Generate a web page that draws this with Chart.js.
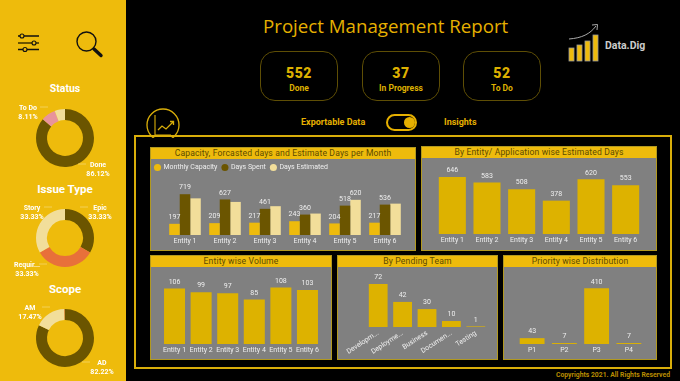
<!DOCTYPE html>
<html>
<head>
<meta charset="utf-8">
<title>Project Management Report</title>
<script src="https://cdn.jsdelivr.net/npm/chart.js@4"></script>
<style>
html, body { margin: 0; padding: 0; background: #000; }
#page { position: relative; width: 680px; height: 381px; overflow: hidden; background: #000; font-family: Roboto, sans-serif; }
#side { position: absolute; left: 0; top: 0; width: 126px; height: 381px; background: #EEBB0C; }
#frame { position: absolute; left: 134px; top: 135px; width: 534px; height: 230px; border: 2px solid #D9AE0A; }
canvas { position: absolute; }
.txt { position: absolute; white-space: nowrap; }
.sideTitle { width: 130px; left: 0; text-align: center; color: #fff; font-weight: 700; font-size: 10.5px; line-height: 12px; }
.card { position: absolute; top: 51px; width: 76px; height: 48px; border: 1.5px solid #5E4E05; border-radius: 15px; text-align: center; color: #DDB000; font-weight: 700; }
.card b { display: block; font-size: 14px; line-height: 16px; margin-top: 13px; letter-spacing: .6px; }
.card span { display: block; font-size: 8.5px; line-height: 11px; margin-top: 2px; }
.panel { position: absolute; background: #808080; border: 1px solid #B2991F; box-sizing: border-box; }
.panel div { background: #EEBB0C; color: #5C4A00; height: 11px; font-size: 8.6px; line-height: 11px; text-align: center; letter-spacing: .14px; white-space: nowrap; overflow: hidden; }
</style>
</head>
<body>
<div id="page">
  <div id="side"></div>
  <svg style="position:absolute;left:0;top:0" width="126" height="70" fill="none" stroke="#111">
    <path d="M18 36H39M18 43H39M18 49.500H39" stroke-width="1.300"/>
    <path d="M18 43H39" stroke="#6B5500" stroke-width="2"/>
    <circle cx="22" cy="36" r="2" fill="#EEBB0C" stroke-width="1.100"/>
    <circle cx="34" cy="43" r="2" fill="#EEBB0C" stroke-width="1.100"/>
    <circle cx="25" cy="49.500" r="2" fill="#EEBB0C" stroke-width="1.100"/>
    <circle cx="86.500" cy="41.500" r="9.500" stroke-width="1.400"/>
    <path d="M94 49L101 55.500" stroke-width="3.400" stroke-linecap="round"/>
  </svg>
  <div class="txt sideTitle" style="top:83px">Status</div>
  <div class="txt sideTitle" style="top:183px;font-size:11.5px">Issue Type</div>
  <div class="txt sideTitle" style="top:283px;font-size:11.5px">Scope</div>
  <canvas id="cStatus" width="130" height="90" style="left:0;top:93px"></canvas>
  <canvas id="cIssue" width="130" height="90" style="left:0;top:193px"></canvas>
  <canvas id="cScope" width="130" height="90" style="left:0;top:293px"></canvas>

  <div class="txt" style="left:263px;top:11px;font-family:'Open Sans',sans-serif;font-size:18.700px;line-height:30px;color:#E6B000">Project Management Report</div>
  <div class="card" style="left:260px"><b id="nDone"></b><span>Done</span></div>
  <div class="card" style="left:362px"><b id="nProgress"></b><span>In Progress</span></div>
  <div class="card" style="left:463px"><b id="nTodo"></b><span>To Do</span></div>

  <svg style="position:absolute;left:560px;top:20px" width="50" height="45" fill="none">
    <path d="M9 19C22 18 30 14 36 6" stroke="#aaa" stroke-width="1"/>
    <path d="M32 5L37.500 4.500L37 10" stroke="#aaa" stroke-width="1"/>
    <rect x="9" y="28" width="5" height="13" fill="#EEBB0C" stroke="#999" stroke-width=".8"/>
    <rect x="17" y="25" width="5" height="16" fill="#EEBB0C" stroke="#999" stroke-width=".8"/>
    <rect x="25" y="21" width="5" height="20" fill="#EEBB0C" stroke="#999" stroke-width=".8"/>
    <rect x="33" y="15" width="5" height="26" fill="#EEBB0C" stroke="#999" stroke-width=".8"/>
  </svg>
  <div class="txt" style="left:605px;top:39px;font-size:10.500px;line-height:13px;font-weight:700;color:#ccc">Data.Dig</div>

  <svg style="position:absolute;left:144px;top:106px" width="40" height="32" fill="none" stroke="#D9AE0A">
    <circle cx="19" cy="19" r="16" stroke-width="1.300"/>
    <path d="M11 9V29H27" stroke-width="1.100"/>
    <path d="M14 24L18 20L22 23L29 16M26 15.500H29.500V19" stroke-width="1.300"/>
  </svg>
  <div class="txt" style="left:301px;top:116px;font-size:9px;line-height:12px;font-weight:700;color:#E6B000">Exportable Data</div>
  <div style="position:absolute;left:386px;top:114px;width:27px;height:13px;border:2px solid #E6B000;border-radius:9px"></div>
  <div style="position:absolute;left:404px;top:117px;width:11px;height:11px;border-radius:50%;background:#E6B000"></div>
  <div class="txt" style="left:444px;top:116px;font-size:9px;line-height:12px;font-weight:700;color:#E6B000">Insights</div>

  <div id="frame"></div>
  <div class="panel" style="left:150px;top:147px;width:266px;height:104px"><div>Capacity, Forcasted days and Estimate Days per Month</div></div>
  <div class="panel" style="left:421px;top:146px;width:236px;height:105px"><div>By Entity/ Application wise Estimated Days</div></div>
  <div class="panel" style="left:150px;top:255px;width:182px;height:105px"><div>Entity wise Volume</div></div>
  <div class="panel" style="left:337px;top:255px;width:161px;height:105px"><div>By Pending Team</div></div>
  <div class="panel" style="left:503px;top:255px;width:154px;height:105px"><div>Priority wise Distribution</div></div>

  <canvas id="cCapacity" width="255" height="91" style="left:150px;top:159px"></canvas>
  <canvas id="cEstimate" width="208" height="91" style="left:435px;top:159px"></canvas>
  <canvas id="cVolume" width="160" height="92" style="left:161px;top:267px"></canvas>
  <canvas id="cTeam" width="148" height="92" style="left:340px;top:267px"></canvas>
  <canvas id="cPriority" width="129" height="92" style="left:516px;top:267px"></canvas>

  <div class="txt" style="left:556px;top:370px;font-size:6.800px;line-height:10px;font-weight:700;color:#B98C00">Copyrights 2021. All Rights Reserved</div>
</div>

<script>
var kpiDone = 552;
var kpiProgress = 37;
var kpiTodo = 52;

var statusLabels = ['Done', 'To Do', 'In Progress'];
var statusValues = [86.12, 8.11, 5.77];
var issueLabels = ['Epic', 'Requir...', 'Story'];
var issueValues = [33.33, 33.33, 33.33];
var scopeLabels = ['AD', 'AM', 'Other'];
var scopeValues = [82.22, 17.47, 0.31];

var entities = ['Entity 1', 'Entity 2', 'Entity 3', 'Entity 4', 'Entity 5', 'Entity 6'];
var monthlyCapacity = [197, 209, 217, 243, 204, 217];
var daysSpent = [719, 627, 461, 360, 518, 536];
var daysEstimated = [646, 583, 508, 378, 620, 553];
var entityVolume = [106, 99, 97, 85, 108, 103];
var teamLabels = ['Developm...', 'Deployme...', 'Business', 'Documen...', 'Testing'];
var teamValues = [72, 42, 30, 10, 1];
var priorityLabels = ['P1', 'P2', 'P3', 'P4'];
var priorityValues = [43, 7, 410, 7];

var dark = '#6B5500', yellow = '#EEBB0C', pale = '#F2DE9A', barYellow = '#DDB200';
var labelFont = '7px Roboto, sans-serif';

document.getElementById('nDone').textContent = kpiDone;
document.getElementById('nProgress').textContent = kpiProgress;
document.getElementById('nTodo').textContent = kpiTodo;

// value labels on top of the bars, a dataset can turn some of them off with hideLabels
var barLabels = {
    id: 'barLabels',
    afterDatasetsDraw: function (chart) {
        var ctx = chart.ctx;
        ctx.save();
        ctx.font = labelFont;
        ctx.fillStyle = '#eee';
        ctx.textAlign = 'center';
        ctx.textBaseline = 'bottom';
        chart.data.datasets.forEach(function (ds, i) {
            chart.getDatasetMeta(i).data.forEach(function (bar, j) {
                if (ds.hideLabels && ds.hideLabels[j]) return;
                ctx.fillText(ds.data[j], bar.x, bar.y - 3);
            });
        });
        ctx.restore();
    }
};

// outside labels of the donuts, offsets come from the chart config
var donutLabels = {
    id: 'donutLabels',
    afterDatasetsDraw: function (chart) {
        var ctx = chart.ctx;
        var ds = chart.data.datasets[0];
        var cx = chart.width / 2, cy = chart.height / 2;
        ctx.save();
        ctx.font = '700 7px Roboto, sans-serif';
        ctx.textAlign = 'center';
        ds.labelOffsets.forEach(function (off, i) {
            if (!off) return;
            var x = cx + off[0], y = cy + off[1];
            var dir = off[0] > 0 ? -1 : 1;
            ctx.strokeStyle = '#F6DF8C';
            ctx.lineWidth = 0.6;
            ctx.beginPath();
            ctx.moveTo(x + dir * 12, y - 4);
            ctx.lineTo(x + dir * 20, y - 4);
            ctx.stroke();
            ctx.fillStyle = '#fff';
            ctx.fillText(chart.data.labels[i], x, y - 1);
            ctx.fillText(ds.data[i].toFixed(2) + '%', x, y + 8);
        });
        ctx.restore();
    }
};

function makeDonut(id, labels, values, colors, offsets) {
    return new Chart(document.getElementById(id), {
        type: 'doughnut',
        data: {
            labels: labels,
            datasets: [{ data: values, backgroundColor: colors, borderWidth: 0, labelOffsets: offsets }]
        },
        options: {
            responsive: false,
            animation: false,
            radius: 29,
            cutout: '62%',
            plugins: { legend: { display: false }, tooltip: { enabled: false } }
        },
        plugins: [donutLabels]
    });
}

makeDonut('cStatus', statusLabels, statusValues, [dark, '#E8949B', pale], [[33, 30], [-37, -27], null]);
makeDonut('cIssue', issueLabels, issueValues, [dark, '#E8703A', pale], [[35, -27], [-38, 30], [-33, -27]]);
makeDonut('cScope', scopeLabels, scopeValues, [dark, pale, '#C0603A'], [[37, 28], [-35, -27], null]);

function makeBar(id, labels, datasets, opt) {
    return new Chart(document.getElementById(id), {
        type: 'bar',
        data: { labels: labels, datasets: datasets },
        options: {
            responsive: false,
            animation: false,
            datasets: { bar: { categoryPercentage: opt.catPct, barPercentage: 1 } },
            plugins: {
                tooltip: { enabled: false },
                legend: opt.legend || { display: false }
            },
            scales: {
                x: {
                    grid: { display: false, drawTicks: false },
                    border: { display: false },
                    ticks: {
                        color: '#eee',
                        font: { size: 7, family: 'Roboto, sans-serif' },
                        padding: 2,
                        autoSkip: false,
                        minRotation: opt.rotate || 0,
                        maxRotation: opt.rotate || 0
                    },
                    afterFit: function (s) { s.height = opt.axisH; }
                },
                y: {
                    min: 0,
                    max: opt.max,
                    grid: { display: false, drawTicks: false },
                    border: { display: false },
                    ticks: { display: false },
                    afterFit: function (s) { s.width = opt.leftW || 0; }
                }
            }
        },
        plugins: [barLabels]
    });
}

makeBar('cCapacity', entities, [
    { label: 'Monthly Capacity', data: monthlyCapacity, backgroundColor: yellow },
    { label: 'Days Spent', data: daysSpent, backgroundColor: dark },
    { label: 'Days Estimated', data: daysEstimated, backgroundColor: pale, hideLabels: [true, true, true, true, false, true] }
], {
    catPct: 0.79, axisH: 15, leftW: 15, max: 952,
    legend: {
        position: 'top',
        align: 'start',
        labels: {
            usePointStyle: true,
            pointStyle: 'circle',
            boxWidth: 5,
            boxHeight: 5,
            padding: 5,
            color: '#eee',
            font: { size: 7, family: 'Roboto, sans-serif' }
        }
    }
});
makeBar('cEstimate', entities, [{ data: daysEstimated, backgroundColor: barYellow }], { catPct: 0.78, axisH: 16, max: 850 });
makeBar('cVolume', entities, [{ data: entityVolume, backgroundColor: barYellow }], { catPct: 0.79, axisH: 15, max: 147 });
makeBar('cTeam', teamLabels, [{ data: teamValues, backgroundColor: barYellow }], { catPct: 0.77, axisH: 32, leftW: 26, max: 100.5, rotate: 33 });
makeBar('cPriority', priorityLabels, [{ data: priorityValues, backgroundColor: barYellow }], { catPct: 0.77, axisH: 15, max: 567 });
</script>
</body>
</html>
